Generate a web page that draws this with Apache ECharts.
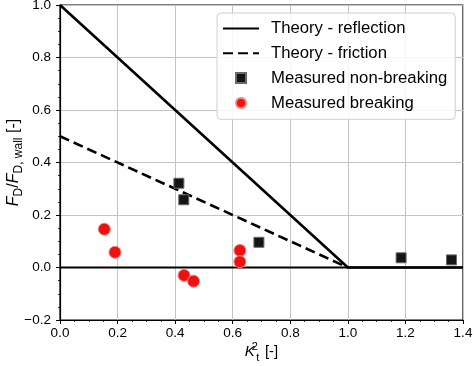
<!DOCTYPE html>
<html>
<head>
<meta charset="utf-8">
<script src="https://cdn.jsdelivr.net/npm/echarts@6/dist/echarts.min.js"></script>
<style>
html,body{margin:0;padding:0;background:#fff;}
#chart{width:474px;height:366px;}
</style>
</head>
<body>
<div id="chart"></div>
<script>
// Data
const reflectionLine = [[0, 1.0], [1.0, 0.0], [1.4, 0.0]];
const frictionLine = [[0, 0.5], [1.0, 0.0]];
const zeroLine = [[0, 0], [1.4, 0]];
const nonBreakingX = [0.413, 0.430, 0.691, 1.185, 1.360];
const nonBreakingY = [0.321, 0.258, 0.096, 0.037, 0.029];
const breakingX = [0.154, 0.191, 0.431, 0.464, 0.625, 0.625];
const breakingY = [0.146, 0.058, -0.030, -0.052, 0.065, 0.022];
const seriesNames = ['Theory - reflection', 'Theory - friction', 'Measured non-breaking', 'Measured breaking'];
const xTicks = {min: 0, max: 1.4, step: 0.2};
const yTicks = {min: -0.2, max: 1.0, step: 0.2};

const FONT = '"Liberation Sans", Arial, sans-serif';
const fmt = v => (v < 0 ? '\u2212' + Math.abs(v).toFixed(1) : v.toFixed(1));
const zip = (xs, ys) => xs.map((x, i) => [x, ys[i]]);

const axisCommon = {
  type: 'value',
  nameMoveOverlap: false,
  axisLine: {show: true, onZero: false, lineStyle: {color: '#000', width: 1.2}},
  axisTick: {show: true, inside: false, length: 4, lineStyle: {color: '#000', width: 1}},
  minorTick: {show: true, splitNumber: 4, length: 2, lineStyle: {color: '#000', width: 0.8}},
  splitLine: {show: true, lineStyle: {color: '#c4c4c4', width: 1}},
  axisLabel: {color: '#000', fontFamily: FONT, fontSize: 13.5, formatter: fmt}
};

const chart = echarts.init(document.getElementById('chart'));
chart.setOption({
  animation: false,
  backgroundColor: '#fff',
  grid: {left: 60, right: 11, top: 5, bottom: 46, containLabel: false, outerBoundsMode: 'none',
         show: true, borderColor: '#000', borderWidth: 1.2, backgroundColor: 'transparent'},
  xAxis: Object.assign({}, axisCommon, {
    min: xTicks.min, max: xTicks.max, interval: xTicks.step,
    axisLabel: Object.assign({}, axisCommon.axisLabel, {margin: 6}),
    name: '{i|K}{sup|2}{sub|t}{n| [-]}',
    nameLocation: 'middle', nameGap: 21,
    nameTextStyle: {
      color: '#000', fontFamily: FONT, fontSize: 15, lineHeight: 22,
      rich: {
        i: {fontStyle: 'italic', fontSize: 15, fontFamily: FONT, lineHeight: 22, verticalAlign: 'middle'},
        sup: {fontSize: 11, fontFamily: FONT, lineHeight: 22, verticalAlign: 'top', width: 0},
        sub: {fontSize: 11, fontFamily: FONT, lineHeight: 22, verticalAlign: 'bottom', width: 6},
        n: {fontSize: 15, fontFamily: FONT, lineHeight: 22, verticalAlign: 'middle'}
      }
    }
  }),
  yAxis: Object.assign({}, axisCommon, {
    min: yTicks.min, max: yTicks.max, interval: yTicks.step,
    axisLabel: Object.assign({}, axisCommon.axisLabel, {margin: 9}),
    name: '{i|F}{sub|D}{n|/}{i|F}{sub|D, wall}{n| [-]}',
    nameLocation: 'middle', nameGap: 35, nameRotate: 90,
    nameTextStyle: {
      color: '#000', fontFamily: FONT, fontSize: 16, lineHeight: 22,
      rich: {
        i: {fontStyle: 'italic', fontSize: 16, fontFamily: FONT, lineHeight: 22, verticalAlign: 'middle'},
        sub: {fontSize: 12, fontFamily: FONT, lineHeight: 22, verticalAlign: 'bottom'},
        n: {fontSize: 16, fontFamily: FONT, lineHeight: 22, verticalAlign: 'middle'}
      }
    }
  }),
  legend: {
    data: [
      {name: seriesNames[0], itemStyle: {color: 'rgba(0,0,0,0)', borderWidth: 0}},
      {name: seriesNames[1], itemStyle: {color: 'rgba(0,0,0,0)', borderWidth: 0}},
      {name: seriesNames[2], icon: 'path://M0,0 L10,0 L10,10 L0,10 Z'},
      {name: seriesNames[3], icon: 'circle'}
    ],
    orient: 'vertical',
    left: 217, top: 13,
    itemWidth: 36, itemHeight: 10, itemGap: 7.8,
    symbolKeepAspect: true,
    padding: [7, 8, 8, 5],
    backgroundColor: 'rgba(255,255,255,0.85)',
    borderColor: '#d0d0d0', borderWidth: 1, borderRadius: 4,
    textStyle: {color: '#000', fontFamily: FONT, fontSize: 16.7, lineHeight: 16, padding: [0, 0, 0, 7]}
  },
  series: [
    {name: 'zero', type: 'line', data: zeroLine, symbol: 'none', silent: true,
     lineStyle: {color: '#000', width: 1.8}, z: 2},
    {name: seriesNames[0], type: 'line', data: reflectionLine, symbol: 'none',
     lineStyle: {color: '#000', width: 2.6}, itemStyle: {color: 'rgba(0,0,0,0)'}, z: 3},
    {name: seriesNames[1], type: 'line', data: frictionLine, symbol: 'none',
     lineStyle: {color: '#000', width: 2.6, type: [10, 5]}, itemStyle: {color: 'rgba(0,0,0,0)'}, z: 3},
    {name: seriesNames[2], type: 'scatter', data: zip(nonBreakingX, nonBreakingY), symbol: 'rect', symbolSize: 10,
     itemStyle: {color: '#151515', borderColor: '#6a6a6a', borderWidth: 1, opacity: 1}, z: 5},
    {name: seriesNames[3], type: 'scatter', data: zip(breakingX, breakingY), symbol: 'circle', symbolSize: 12,
     itemStyle: {color: '#ee1111', borderColor: '#ff7a7a', borderWidth: 1, opacity: 1}, z: 5}
  ]
});
</script>
</body>
</html>
